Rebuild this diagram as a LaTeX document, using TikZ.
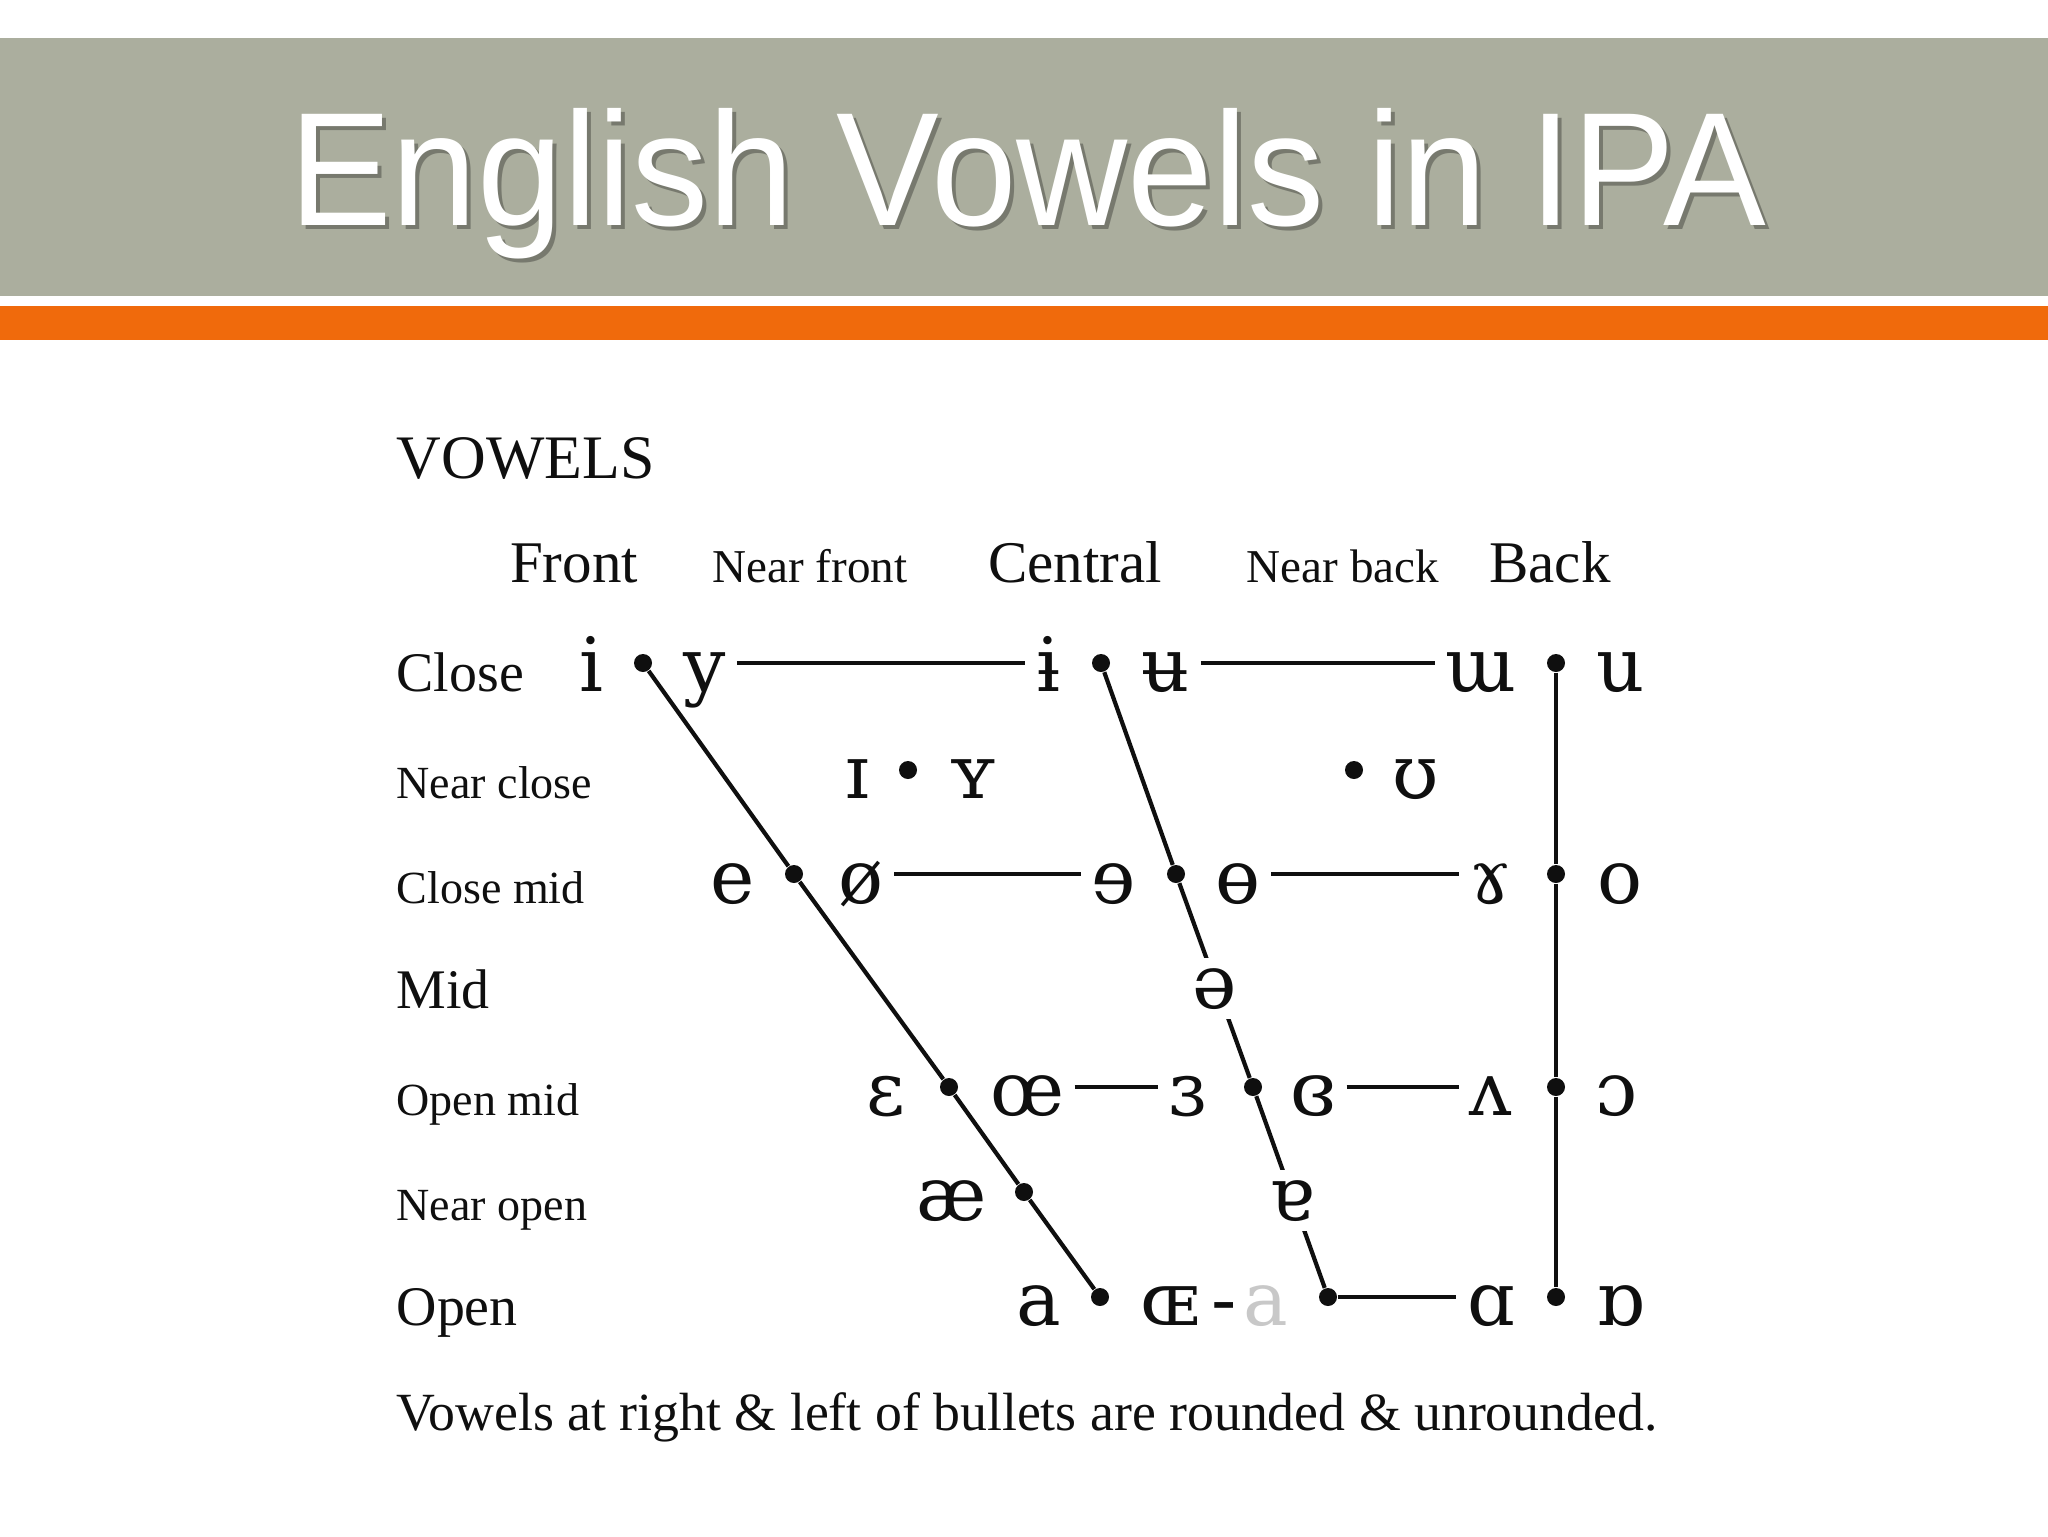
\documentclass[tikz,border=0pt]{standalone}
\usepackage{fontspec}
\usepackage{graphicx}
\setmainfont{Liberation Serif}
\setsansfont{Liberation Sans}
\newfontfamily\ipafont{DejaVu Serif}
\usetikzlibrary{positioning}

\definecolor{bandgray}{RGB}{171,174,158}
\definecolor{bandorange}{RGB}{240,106,12}
\definecolor{ink}{RGB}{15,15,15}
\definecolor{paleink}{RGB}{200,200,200}

\tikzset{
  vowel/.style={anchor=base,inner sep=1mm,text=ink,font=\ipafont\fontsize{21.3pt}{24pt}\selectfont},
  bul/.style={circle,fill=ink,inner sep=0pt,minimum size=1.8mm},
  ln/.style={draw=ink,line width=0.42mm},
  rowbig/.style={anchor=base west,inner sep=0pt,text=ink,font=\fontsize{15.9pt}{18pt}\selectfont},
  rowsmall/.style={anchor=base west,inner sep=0pt,text=ink,font=\fontsize{13.1pt}{15pt}\selectfont},
  colbig/.style={anchor=base,inner sep=0pt,text=ink,font=\fontsize{16.8pt}{19pt}\selectfont},
  colsmall/.style={anchor=base,inner sep=0pt,text=ink,font=\fontsize{13.4pt}{15pt}\selectfont}
}

\begin{document}
\begin{tikzpicture}[x=0.1mm,y=-0.1mm]
   \useasboundingbox (0,0) rectangle (2048,1536);
   \fill[white] (0,0) rectangle (2048,1536);

   % bands and title
   \fill[bandgray] (0,38) rectangle (2048,296);
   \fill[bandorange] (0,306) rectangle (2048,340);
   \node[anchor=base,inner sep=0pt,text=black,opacity=0.3,font=\sffamily\fontsize{43.8pt}{48pt}\selectfont] (titleshadow) at (1032,229) {\scalebox{1}[1.05]{English Vowels in IPA}};
   \node[anchor=base,inner sep=0pt,text=white,font=\sffamily\fontsize{43.8pt}{48pt}\selectfont] (title) at (1028,225) {\scalebox{1}[1.05]{English Vowels in IPA}};

   % headings
   \node[anchor=base west,inner sep=0pt,text=ink,font=\fontsize{17.6pt}{20pt}\selectfont] (vowels) at (396,478) {VOWELS};
   \node[colbig] (front) at (574,582) {Front};
   \node[colsmall] (nearfront) at (810,582) {Near front};
   \node[colbig] (central) at (1075,582) {Central};
   \node[colsmall] (nearback) at (1343,582) {Near back};
   \node[colbig] (back) at (1550,582) {Back};

   \node[rowbig] (close) at (396,691) {Close};
   \node[rowsmall] (nearclose) at (396,798) {Near close};
   \node[rowsmall] (closemid) at (396,903) {Close mid};
   \node[rowbig] (mid) at (396,1008) {Mid};
   \node[rowsmall] (openmid) at (396,1115) {Open mid};
   \node[rowsmall] (nearopen) at (396,1220) {Near open};
   \node[rowbig] (open) at (396,1325) {Open};

   % bullets
   \node[bul] (f1) at (643,663) {};
   \node[bul] (f3) at (794,874) {};
   \node[bul] (f5) at (949,1087) {};
   \node[bul] (f6) at (1024,1192) {};
   \node[bul] (f7) at (1100,1297) {};
   \node[bul] (c1) at (1101,663) {};
   \node[bul] (c3) at (1176,874) {};
   \node[bul] (c5) at (1253,1087) {};
   \node[bul] (c7) at (1328,1297) {};
   \node[bul] (k1) at (1556,663) {};
   \node[bul] (k3) at (1556,874) {};
   \node[bul] (k5) at (1556,1087) {};
   \node[bul] (k7) at (1556,1297) {};
   \node[bul] (n1) at (908,770) {};
   \node[bul] (n2) at (1354,770) {};

   % the three long lines
   \draw[ln] (f1) -- (f3) -- (f5) -- (f6) -- (f7);
   \draw[ln] (c1) -- (c3) -- (c5) -- (c7);
   \draw[ln] (k1) -- (k3) -- (k5) -- (k7);

   % vowels
   \node[vowel] (i) at (591,691) {i};
   \node[vowel] (y) at (705,691) {y};
   \node[vowel] (ibar) at (1048,691) {ɨ};
   \node[vowel] (ubar) at (1166,691) {ʉ};
   \node[vowel] (turnm) at (1481,691) {ɯ};
   \node[vowel] (u) at (1621,691) {u};

   \node[vowel] (smalli) at (857,798) {ɪ};
   \node[vowel] (smally) at (973,798) {ʏ};
   \node[vowel] (upsilon) at (1416,798) {ʊ};

   \node[vowel] (e) at (733,903) {e};
   \node[vowel] (oslash) at (861,903) {ø};
   \node[vowel] (reve) at (1114,903) {ɘ};
   \node[vowel] (obar) at (1238,903) {ɵ};
   \node[vowel] (ramshorn) at (1491,903) {ɤ};
   \node[vowel] (o) at (1620,903) {o};

   \node[vowel,fill=white] (schwa) at (1215,1008) {ə};

   \node[vowel] (epsilon) at (886,1115) {ɛ};
   \node[vowel] (oe) at (1027,1115) {œ};
   \node[vowel] (reveps) at (1188,1115) {ɜ};
   \node[vowel] (closedeps) at (1313,1115) {ɞ};
   \node[vowel] (turnv) at (1491,1115) {ʌ};
   \node[vowel] (openo) at (1616,1115) {ɔ};

   \node[vowel] (ae) at (952,1220) {æ};
   \node[vowel,fill=white] (turna) at (1292,1220) {ɐ};

   \node[vowel] (a) at (1039,1325) {a};
   \node[vowel] (smalloe) at (1170,1325) {ɶ};
   \node[vowel] (dash) at (1224,1325) {-};
   \node[vowel,text=paleink] (palea) at (1266,1325) {a};
   \node[vowel] (scripta) at (1491,1325) {ɑ};
   \node[vowel] (turnscripta) at (1620,1325) {ɒ};

   % short lines
   \draw[ln] (y.east |- f1) -- (ibar.west |- f1);
   \draw[ln] (ubar.east |- f1) -- (turnm.west |- f1);
   \draw[ln] (oslash.east |- f3) -- (reve.west |- f3);
   \draw[ln] (obar.east |- f3) -- (ramshorn.west |- f3);
   \draw[ln] (oe.east |- f5) -- (reveps.west |- f5);
   \draw[ln] (closedeps.east |- f5) -- (turnv.west |- f5);
   \draw[ln] (c7) -- (scripta.west |- c7);

   \node[anchor=base west,inner sep=0pt,text=ink,font=\fontsize{15.3pt}{18pt}\selectfont] (note) at (396,1430) {Vowels at right \& left of bullets are rounded \& unrounded.};
\end{tikzpicture}
\end{document}
